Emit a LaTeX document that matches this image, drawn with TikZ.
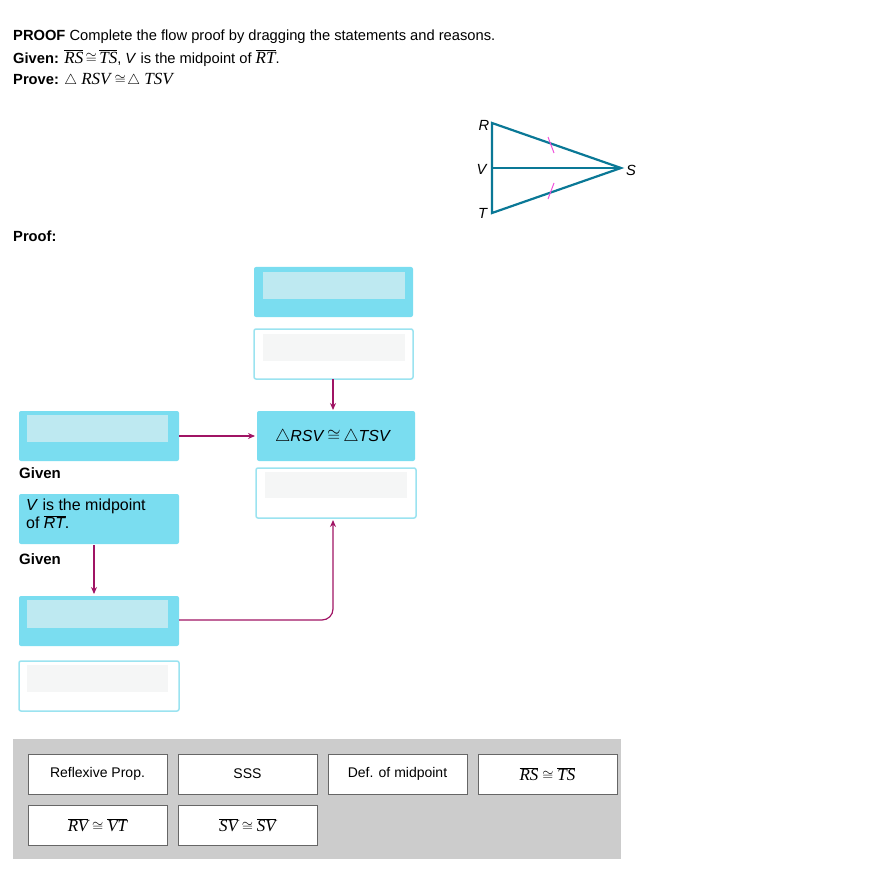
\documentclass[tikz,border=0pt]{standalone}
\usepackage{fontspec}
\setmainfont{Liberation Sans}
\newfontfamily\serifit{Liberation Serif}[ItalicFont=* Italic]
\newcommand{\sv}[1]{{\fontsize{17}{17}\serifit\itshape #1}}
\newcommand{\ov}[1]{$\overline{\hbox{\sv{#1}}}$}
\usetikzlibrary{arrows.meta}
\definecolor{cy}{RGB}{122,221,240}
\definecolor{cyin}{RGB}{190,233,241}
\definecolor{cybd}{RGB}{155,227,240}
\definecolor{gin}{RGB}{245,246,246}
\definecolor{mag}{RGB}{160,20,100}
\definecolor{teal}{RGB}{10,120,150}
\definecolor{panel}{RGB}{204,204,204}
\definecolor{tick}{RGB}{240,80,220}
\begin{document}
\begin{tikzpicture}[x=1pt,y=-1pt,
  txt/.style={inner sep=0pt,anchor=west,font=\fontsize{14.7}{17}\selectfont},
  bx/.style={fill=cy,rounded corners=2pt},
  wb/.style={fill=white,draw=cybd,line width=1.5pt,rounded corners=2pt},
  tile/.style={draw=black!60,fill=white,line width=0.8pt,minimum width=139pt,minimum height=40pt,inner sep=0pt,font=\fontsize{14}{16}\selectfont},
  con/.style={draw=mag,line width=1.2pt,-{Stealth[length=7pt,width=6pt]}}]
\useasboundingbox (0,0) rectangle (871,874);
% header
\node[txt] (l1) at (13,37) {\textbf{PROOF} Complete the flow proof by dragging the statements and reasons.};
\node[txt] (l2) at (13,58) {\textbf{Given:} \ov{RS}\,$\cong$\,\ov{TS}, \textit{V} is the midpoint of \ov{RT}.};
\node[txt] (l3) at (13,80) {\textbf{Prove:} $\triangle$ \sv{RSV} $\cong\!\triangle$ \sv{TSV}};
% triangle
\coordinate (R) at (492,123); \coordinate (V) at (492,168);
\coordinate (T) at (492,213); \coordinate (S) at (621,168);
\draw[teal,line width=2.2pt,line join=miter] (R) -- (S) -- (T) -- cycle;
\draw[teal,line width=2.2pt] (V) -- (S);
\draw[tick,line width=1pt] (548,137) -- (554,153);
\draw[tick,line width=1pt] (548,199) -- (554,183);
\node[txt,anchor=center] (lR) at (484,125) {\textit{R}};
\node[txt,anchor=center] (lV) at (482,169) {\textit{V}};
\node[txt,anchor=center] (lT) at (483,213) {\textit{T}};
\node[txt,anchor=center] (lS) at (631,170) {\textit{S}};
\node[txt] (pf) at (13,236) {\textbf{Proof:}};
% boxes
\path[bx] (254,267) rectangle (413,317); \fill[cyin] (263,272) rectangle (405,299);
\path[wb] (254,329) rectangle (413,379); \fill[gin] (263,334) rectangle (405,361);
\coordinate (a1) at (333,379);
\path[bx] (19,411) rectangle (179,461); \fill[cyin] (27,415) rectangle (168,442);
\coordinate (b1) at (179,436);
\path[bx] (257,411) rectangle (415,461);
\node[font=\fontsize{16}{18}\selectfont] (goal) at (333,437) {$\triangle$\textit{RSV}\,$\cong$\,$\triangle$\textit{TSV}};
\coordinate (a2) at (333,410); \coordinate (b2) at (255,436);
\path[wb] (256,468) rectangle (416,518); \fill[gin] (265,472) rectangle (407,498);
\coordinate (c2) at (333,520);
\node[txt,font=\bfseries\fontsize{15}{17}\selectfont] (g1) at (19,473) {Given};
\path[bx] (19,494) rectangle (179,544);
\node[txt,anchor=north west,align=left,font=\fontsize{16}{18}\selectfont] (mid) at (26,499) {\textit{V} is the midpoint\\of $\overline{\hbox{\textit{RT}}}$\kern-1pt.};
\node[txt,font=\bfseries\fontsize{15}{17}\selectfont] (g2) at (19,559) {Given};
\coordinate (d1) at (94,545); \coordinate (d2) at (94,594);
\path[bx] (19,596) rectangle (179,646); \fill[cyin] (27,600) rectangle (168,628);
\coordinate (c1) at (179,620);
\path[wb] (19,661) rectangle (179,711); \fill[gin] (27,665) rectangle (168,692);
% connectors
\draw[con] (a1) -- (a2);
\draw[con] (b1) -- (b2);
\draw[con] (d1) -- (d2);
\draw[con,rounded corners=11pt] (c1) -- (333,620) -- (c2);
% panel
\fill[panel] (13,739) rectangle (621,859);
\node[tile] (t1) at (97.5,774) {Reflexive Prop.};
\node[tile] (t2) at (247.5,774) {SSS};
\node[tile] (t3) at (397.5,774) {Def. of midpoint};
\node[tile] (t4) at (547.5,774) {\ov{RS} $\cong$ \ov{TS}};
\node[tile] (t5) at (97.5,825) {\ov{RV} $\cong$ \ov{VT}};
\node[tile] (t6) at (247.5,825) {\ov{SV} $\cong$ \ov{SV}};
\end{tikzpicture}
\end{document}
